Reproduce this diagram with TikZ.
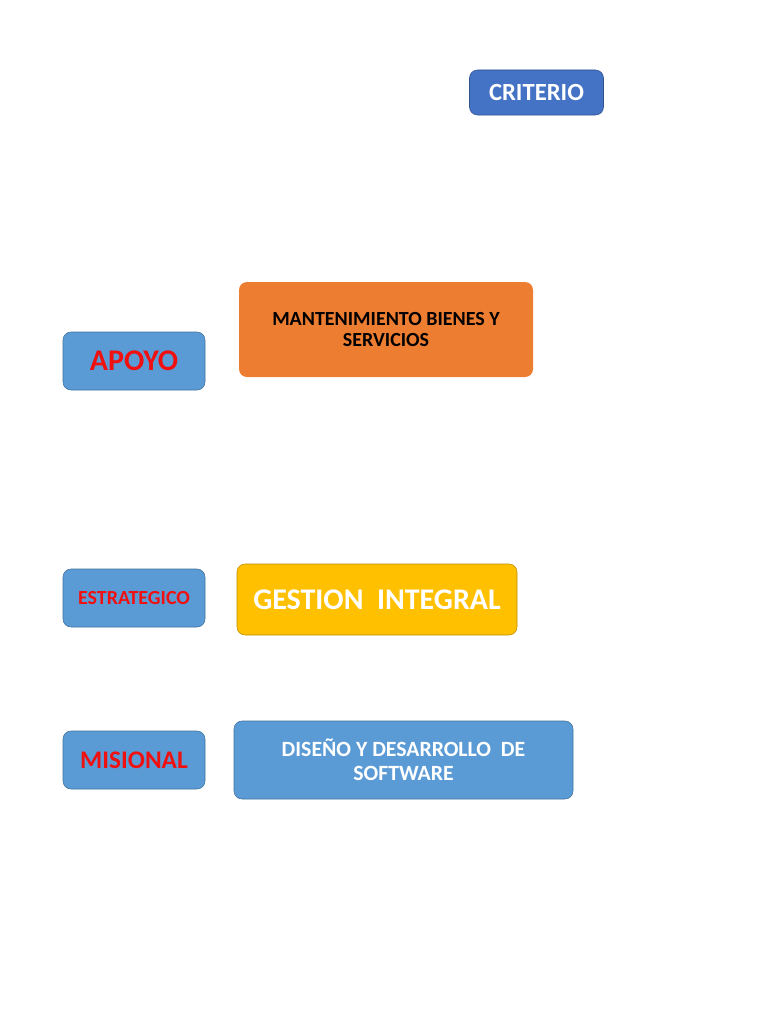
\documentclass[tikz,border=0pt]{standalone}
\usepackage{fontspec}
\setmainfont{Carlito}[BoldFont={Carlito Bold}]
\definecolor{boxblue}{HTML}{5B9BD5}
\definecolor{boxblueline}{HTML}{41719C}
\definecolor{headblue}{HTML}{4472C4}
\definecolor{headblueline}{HTML}{2F528F}
\definecolor{boxorange}{HTML}{ED7D31}
\definecolor{boxyellow}{HTML}{FFC000}
\definecolor{boxyellowline}{HTML}{BC8C00}
\definecolor{labelred}{HTML}{F01010}
\begin{document}
\begin{tikzpicture}[x=0.75pt, y=-0.75pt,
    catbox/.style={draw=boxblueline, fill=boxblue, rounded corners=6pt, text=labelred,
        minimum width=106.5pt, minimum height=43.5pt},
    procbox/.style={rounded corners=6pt, align=center}]
        \useasboundingbox (0,0) rectangle (768,1024);

        \node[procbox, draw=headblueline, fill=headblue, text=white, minimum width=100.5pt,
            minimum height=33.75pt, font=\fontsize{18.5}{22}\selectfont\bfseries] (criterio) at (536.5,92.5) {CRITERIO};

        \node[catbox, font=\fontsize{22.5}{26}\selectfont\bfseries] (apoyo) at (134,361) {APOYO};
        \node[catbox, font=\fontsize{15}{18}\selectfont\bfseries] (estrategico) at (134,598) {ESTRATEGICO};
        \node[catbox, font=\fontsize{19}{22}\selectfont\bfseries] (misional) at (134,760) {MISIONAL};

        \node[procbox, fill=boxorange, text=black, minimum width=220.5pt, minimum height=71.25pt,
            font=\fontsize{15}{16}\selectfont\bfseries] (mantenimiento) at (386,329.5)
            {MANTENIMIENTO BIENES Y\\SERVICIOS};
        \node[procbox, draw=boxyellowline, fill=boxyellow, text=white, minimum width=210pt,
            minimum height=53.25pt, font=\fontsize{22.5}{26}\selectfont\bfseries] (gestion) at (377,599.5)
            {GESTION\ \ INTEGRAL};
        \node[procbox, draw=boxblueline, fill=boxblue, text=white, minimum width=254.25pt,
            minimum height=58.5pt, font=\fontsize{16.3}{18}\selectfont\bfseries] (diseno) at (403.5,760)
            {DISEÑO Y DESARROLLO\ \ DE\\SOFTWARE};
    \end{tikzpicture}
\end{document}
